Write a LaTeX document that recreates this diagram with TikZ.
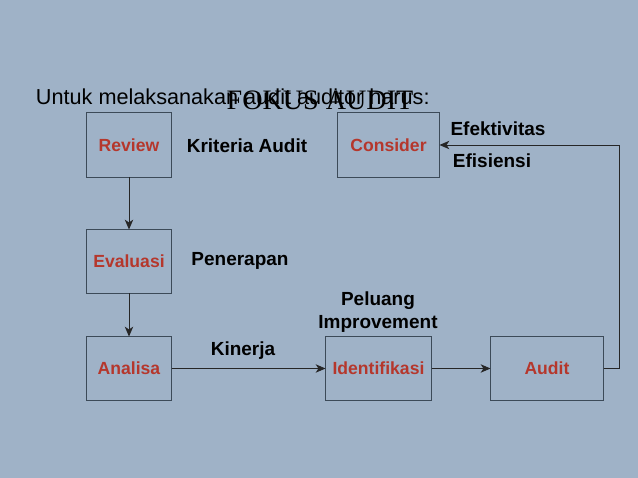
\documentclass[tikz,border=0pt]{standalone}
\usepackage{fontspec}
\setmainfont{Liberation Sans}
\newfontfamily\serifaudit{Liberation Serif}
\usetikzlibrary{arrows.meta}
\definecolor{slidebg}{HTML}{9FB2C7}
\definecolor{boxred}{HTML}{B5372C}
\definecolor{boxline}{HTML}{3C4A58}
\tikzset{
	stepbox/.style={shape=rectangle, draw=boxline, line width=0.7pt, text=boxred, font=\bfseries\fontsize{12.5}{14}\selectfont},
	lbl/.style={font=\bfseries\fontsize{13.5}{16}\selectfont, align=center},
	link/.style={-{Stealth[length=7pt, width=6pt, inset=2pt]}, draw=black!85, line width=0.7pt}
}
\begin{document}
\begin{tikzpicture}[x=0.025cm, y=-0.025cm]
	% Background:
	\fill[slidebg] (0, 0) rectangle (638, 478);
	\useasboundingbox (0, 0) rectangle (638, 478);
	% Titles:
	\node[anchor=west, font=\fontsize{15.4}{18}\selectfont] (T1) at (31, 97){Untuk melaksanakan audit auditor harus:};
	\node[font=\serifaudit\fontsize{20}{22}\selectfont] (T2) at (320, 100){FOKUS AUDIT};
	% Boxes:
	\node[stepbox, minimum width=2.1cm, minimum height=1.6cm] (Rev) at (129, 145){Review};
	\node[stepbox, minimum width=2.525cm, minimum height=1.6cm] (Con) at (388.5, 145){Consider};
	\node[stepbox, minimum width=2.1cm, minimum height=1.575cm] (Eva) at (129, 261.5){Evaluasi};
	\node[stepbox, minimum width=2.1cm, minimum height=1.575cm] (Ana) at (129, 368.5){Analisa};
	\node[stepbox, minimum width=2.625cm, minimum height=1.575cm] (Ide) at (378.5, 368.5){Identifikasi};
	\node[stepbox, minimum width=2.8cm, minimum height=1.575cm] (Aud) at (547, 368.5){Audit};
	% Labels:
	\node[lbl] (L1) at (247, 146){Kriteria Audit};
	\node[lbl] (L2) at (498, 129){Efektivitas};
	\node[lbl] (L3) at (492, 161){Efisiensi};
	\node[lbl] (L4) at (240, 261){Penerapan};
	\node[lbl] (L5) at (378, 312){Peluang\\Improvement};
	\node[lbl] (L6) at (243, 351){Kinerja};
	% Connectors:
	\coordinate (C1) at (619, 368.5);
	\coordinate (C2) at (619, 145);
	\draw[link] (Rev) -- (Eva);
	\draw[link] (Eva) -- (Ana);
	\draw[link] (Ana) -- (Ide);
	\draw[link] (Ide) -- (Aud);
	\draw[link] (Aud.east) -- (C1) -- (C2) -- (Con.east);
\end{tikzpicture}
\end{document}
